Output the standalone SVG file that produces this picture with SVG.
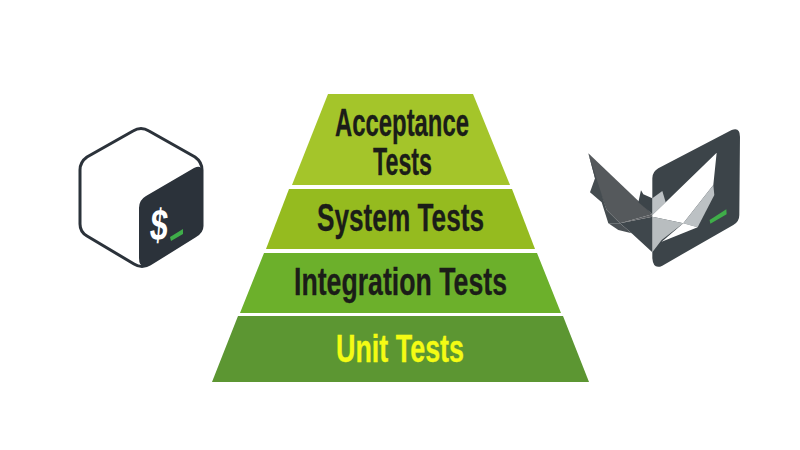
<svg xmlns="http://www.w3.org/2000/svg" width="800" height="450" viewBox="0 0 800 450">
<style>
text{font-family:"Liberation Sans",Arial,sans-serif;font-weight:700;font-size:38px;fill:#1b1d18;stroke:#1b1d18;stroke-width:.3}
.y{fill:#f4fb14;stroke:#f4fb14}
</style>
<rect width="800" height="450" fill="#fff"/>
<g id="tier-acceptance">
<polygon points="328,94 473,94 510,185 292,185" fill="#a4c52a"/>
<text x="335" y="136" textLength="134" lengthAdjust="spacingAndGlyphs">Acceptance</text>
<text x="373" y="175" textLength="59" lengthAdjust="spacingAndGlyphs">Tests</text>
</g>
<g id="tier-system">
<polygon points="289,189 512,189 535,249 266,249" fill="#95bb1f"/>
<text x="317" y="231" textLength="167" lengthAdjust="spacingAndGlyphs">System Tests</text>
</g>
<g id="tier-integration">
<polygon points="264,253 537,253 561,313 240,313" fill="#6cb02b"/>
<text x="294" y="295" textLength="213" lengthAdjust="spacingAndGlyphs">Integration Tests</text>
</g>
<g id="tier-unit">
<polygon points="238,316 563,316 589,382 212,382" fill="#5c9632"/>
<text class="y" x="336" y="362" textLength="128" lengthAdjust="spacingAndGlyphs">Unit Tests</text>
</g>
<g id="bash-logo">
<path d="M133 131 Q141 126 149 131 L195 157 Q202 162 202 170 L202 226 Q202 232 195 236 L150 264 Q142 269 134 264 L87 236 Q80 232 80 224 L80 170 Q80 162 87 157 Z" fill="#fff" stroke="#2b323a" stroke-width="3"/>
<path d="M194 168 Q202 164 202 172 L202 226 Q202 232 195 236 L150 264 Q139 270 139 258 L139 208 Q139 200 146 196 Z" fill="#2b323a"/>
<text transform="translate(149 240) skewX(-5) scale(.72 1)" style="font-size:44px;fill:#fff;stroke:#fff;stroke-width:0">$</text>
<polygon points="170,237 183,229 183,234 171,241" fill="#3fae49"/>
</g>
<g id="bats-logo" transform="translate(575 115) scale(.3333)">
<path d="M232 190 Q232 170 250 160 L470 45 Q495 35 495 65 L493 300 Q493 320 475 330 L262 452 Q235 465 232 430 Z" fill="#3c4449"/>
<polygon points="40,115 232,298 135,325 95,285 60,190" fill="#55595c"/>
<polygon points="40,115 60,190 45,232 80,262 100,325 135,325 95,285" fill="#454c50"/>
<polygon points="198,226 205,238 232,250 232,298 190,262" fill="#3c4449"/>
<polygon points="135,325 232,305 232,412 170,355" fill="#3f474c"/>
<polygon points="100,325 135,325 170,355 130,345" fill="#4a5054"/>
<polygon points="135,325 232,298 232,305" fill="#5e6164"/>
<polygon points="232,250 262,228 272,262 232,300" fill="#bcc1c4"/>
<polygon points="232,300 272,262 425,113 415,210 325,325 232,305" fill="#fff"/>
<polygon points="415,210 418,240 368,337 325,325" fill="#bcc1c4"/>
<polygon points="232,305 325,325 260,375 232,412" fill="#b8bdbf"/>
<polygon points="325,325 368,337 260,380" fill="#fff"/>
<polygon points="404,315 454,283 455,298 406,326" fill="#3fae49"/>
</g>
</svg>
